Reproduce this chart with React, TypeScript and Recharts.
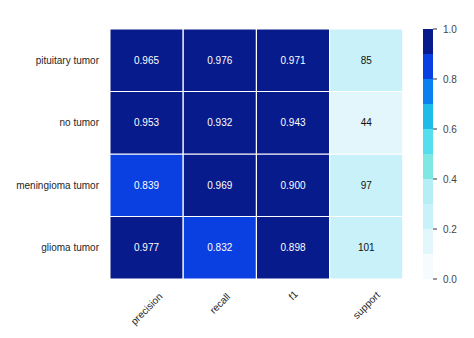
import React from 'react';
import { BarChart, Bar, XAxis, YAxis, Cell, LabelList } from 'recharts';

// heatmap data, rows listed bottom -> top
const metrics = ['precision', 'recall', 'f1', 'support'];
const classes = ['glioma tumor', 'meningioma tumor', 'no tumor', 'pituitary tumor'];
const precision = [0.977, 0.839, 0.953, 0.965];
const recall = [0.832, 0.969, 0.932, 0.976];
const f1 = [0.898, 0.9, 0.943, 0.971];
const support = [101, 97, 44, 85];

// discrete colormap, 0.0 -> 1.0 in steps of 0.1
const levels = [
  '#f6fbfd', '#e2f6fb', '#c8f1fa', '#b6eef6', '#7fe8e2',
  '#55dfee', '#20bce9', '#0a80f1', '#0a3fe2', '#081b8c',
];
const colorbarTicks = [0, 0.2, 0.4, 0.6, 0.8, 1.0];

const FONT = '"Liberation Sans", Arial, sans-serif';

const valuesByMetric: Record<string, number[]> = { precision, recall, f1, support };

// support is counts, scale it down for colouring
const scaled = (metric: string, v: number) => (metric === 'support' ? v / 420 : v);
// bins are a little off the tick marks (0.898 still lands in the darkest one)
const colorFor = (v: number) => levels[Math.max(0, Math.min(9, Math.floor(v * 10 + 0.05)))];

const table = metrics.map(metric => {
  const row: Record<string, string | number> = { metric };
  classes.forEach((c, i) => {
    row[`c${i}`] = 1;
  });
  return row;
});

const colorbarRow = [Object.fromEntries(levels.map((_, i) => [`l${i}`, 0.1]))];

const XTick = (props: any) => {
  const { x, y, payload } = props;
  const label: string = payload.value;
  const w = label === 'f1' ? 8 : label.length * 5.1;
  const cy = y + 10 + ((w + 10) * 0.707) / 2;
  return (
    <text
      x={x}
      y={cy}
      dy="0.35em"
      textAnchor="middle"
      transform={`rotate(-45, ${x}, ${cy})`}
      fontSize={10}
      fontFamily={FONT}
      fill="#262626"
    >
      {label}
    </text>
  );
};

const YTick = (props: any) => {
  const { x, y, payload } = props;
  return (
    <text x={x} y={y} dy="0.35em" textAnchor="end" fontSize={10} fontFamily={FONT} fill="#262626">
      {classes[Math.floor(payload.value)]}
    </text>
  );
};

const makeLabel = (ci: number) => (props: any) => {
  const { x, y, width, height, index } = props;
  const metric = metrics[index];
  const v = valuesByMetric[metric][ci];
  const dark = scaled(metric, v) >= 0.65;
  return (
    <text
      x={x + width / 2}
      y={y + height / 2}
      dy="0.35em"
      textAnchor="middle"
      fontSize={10}
      fontFamily={FONT}
      fill={dark ? '#ffffff' : '#111111'}
    >
      {metric === 'support' ? String(v) : v.toFixed(3)}
    </text>
  );
};

export default function App() {
  return (
    <div style={{ position: 'absolute', left: 0, top: 0, width: 474, height: 338, background: '#fff' }}>
      <div style={{ position: 'absolute', left: 0, top: 0 }}>
        <BarChart
          width={474}
          height={338}
          data={table}
          margin={{ top: 29, right: 71, bottom: 0, left: 10 }}
          barCategoryGap={0}
          barGap={0}
        >
          <XAxis
            dataKey="metric"
            type="category"
            interval={0}
            height={59}
            tickSize={0}
            tickMargin={0}
            tickLine={false}
            axisLine={false}
            tick={<XTick />}
          />
          <YAxis
            type="number"
            domain={[0, 4]}
            ticks={[0.5, 1.5, 2.5, 3.5]}
            width={100}
            tickSize={0}
            tickMargin={11}
            tickLine={false}
            axisLine={false}
            tick={<YTick />}
          />
          {classes.map((c, ci) => (
            <Bar key={c} dataKey={`c${ci}`} stackId="hm" isAnimationActive={false}>
              {metrics.map(m => (
                <Cell
                  key={m}
                  fill={colorFor(scaled(m, valuesByMetric[m][ci]))}
                  stroke="#ffffff"
                  strokeWidth={1}
                />
              ))}
              <LabelList content={makeLabel(ci)} />
            </Bar>
          ))}
        </BarChart>
      </div>
      <div style={{ position: 'absolute', left: 413, top: 0 }}>
        <BarChart
          width={61}
          height={338}
          data={colorbarRow}
          margin={{ top: 29, right: 1, bottom: 59, left: 10 }}
          barCategoryGap={0}
        >
          <XAxis hide />
          <YAxis
            orientation="right"
            type="number"
            domain={[0, 1]}
            ticks={colorbarTicks}
            tickFormatter={(v: number) => v.toFixed(1)}
            width={40}
            tickSize={4}
            tickMargin={6}
            axisLine={false}
            tickLine={{ stroke: '#333' }}
            tick={{ fontSize: 10, fontFamily: FONT, fill: '#444' }}
          />
          {levels.map((col, i) => (
            <Bar key={col} dataKey={`l${i}`} stackId="cb" fill={col} isAnimationActive={false} />
          ))}
        </BarChart>
      </div>
    </div>
  );
}
